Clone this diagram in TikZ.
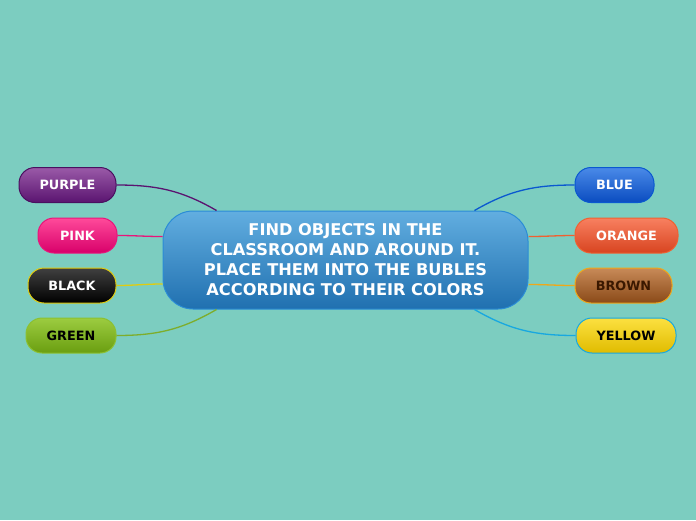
\documentclass[tikz,border=0pt]{standalone}
\usepackage{fontspec}
\setmainfont{DejaVu Sans}
\usepackage{tikz}
\usetikzlibrary{positioning, calc}
\definecolor{sea}{HTML}{7CCDC0}
% topic
\definecolor{topic_top}{HTML}{62AEE0}
\definecolor{topic_mid}{HTML}{3A8CC8}
\definecolor{topic_bot}{HTML}{2070B0}
\definecolor{topic_line}{HTML}{2A8CD6}
% leaves: top, bottom, border
\definecolor{purple_top}{HTML}{9A5AA8}
\definecolor{purple_bot}{HTML}{5A1470}
\definecolor{purple_line}{HTML}{4A1060}
\definecolor{pink_top}{HTML}{FF4A9A}
\definecolor{pink_bot}{HTML}{D8006A}
\definecolor{pink_line}{HTML}{E8157A}
\definecolor{black_top}{HTML}{404040}
\definecolor{black_bot}{HTML}{000000}
\definecolor{black_line}{HTML}{E0CC10}
\definecolor{green_top}{HTML}{9CCC40}
\definecolor{green_bot}{HTML}{6A9E10}
\definecolor{green_line}{HTML}{8CC030}
\definecolor{blue_top}{HTML}{4A8AE8}
\definecolor{blue_bot}{HTML}{0A4CC0}
\definecolor{blue_line}{HTML}{0A58D0}
\definecolor{orange_top}{HTML}{F88060}
\definecolor{orange_bot}{HTML}{D84420}
\definecolor{orange_line}{HTML}{F06030}
\definecolor{brown_top}{HTML}{C88A58}
\definecolor{brown_bot}{HTML}{8A4A18}
\definecolor{brown_line}{HTML}{F0A818}
\definecolor{brown_text}{HTML}{3A1800}
\definecolor{yellow_top}{HTML}{FCE040}
\definecolor{yellow_bot}{HTML}{E0BC00}
\definecolor{yellow_line}{HTML}{18A8E0}
\tikzset{
  main_font/.style = {font=\fontsize{16.2}{20}\selectfont\bfseries},
  leaf_font/.style = {font=\fontsize{12.8}{14}\selectfont\bfseries},
  leaf_size/.style = {minimum width=#1, minimum height=35pt, inner sep=0pt}
}
\tikzset{
  topic/.style = {main_font, align=center, text=white, draw=topic_line, line width=1pt,
    rounded corners=30pt, minimum width=365pt, minimum height=98pt, inner sep=0pt,
    top color=topic_top, middle color=topic_mid, bottom color=topic_bot},
  leaf/.style 2 args = {leaf_font, leaf_size=#1, rounded corners=16pt, line width=1pt,
    text=white, draw=#2_line, top color=#2_top, bottom color=#2_bot},
  link/.style = {line width=1.3pt, draw=#1}
}
\begin{document}
\begin{tikzpicture}[x=1pt, y=-1pt]
    \fill[sea] (0,0) rectangle (696,520);
    \useasboundingbox (0,0) rectangle (696,520);

    % Central topic
    \node[topic] at (345.5,260) (topic) {
        FIND OBJECTS IN THE\\
        CLASSROOM AND AROUND IT.\\
        PLACE THEM INTO THE BUBLES\\
        ACCORDING TO THEIR COLORS};

    % Left colours
    \node[leaf={97pt}{purple}] at (67.5,185) (purple) {PURPLE};
    \node[leaf={79pt}{pink}] at (77.5,235.5) (pink) {PINK};
    \node[leaf={88pt}{black}] at (72,285.5) (black) {BLACK};
    \node[leaf={90pt}{green}, text=black] at (71,335.5) (green) {GREEN};

    % Right colours
    \node[leaf={79pt}{blue}] at (614.5,185) (blue) {BLUE};
    \node[leaf={103pt}{orange}] at (626.5,235.5) (orange) {ORANGE};
    \node[leaf={97pt}{brown}, text=brown_text] at (623.5,285.5) (brown) {BROWN};
    \node[leaf={100pt}{yellow}, text=black] at (626,335.5) (yellow) {YELLOW};

    % Links
    \draw[link=purple_bot] (purple.east) to[out=0, in=150] (topic.159);
    \draw[link=pink_line] (pink.east) to[out=0, in=180] ([yshift=-1pt]topic.west |- pink.east);
    \draw[link=black_line] (black.east) to[out=0, in=180] ([yshift=1.5pt]topic.west |- black.east);
    \draw[link=green_line!90!black] (green.east) to[out=0, in=210] (topic.201);

    \draw[link=blue_line] (blue.west) to[out=180, in=30] (topic.21);
    \draw[link=orange_line] (orange.west) to[out=180, in=0] ([yshift=-1pt]topic.east |- orange.west);
    \draw[link=brown_line] (brown.west) to[out=180, in=0] ([yshift=1pt]topic.east |- brown.west);
    \draw[link=yellow_line] (yellow.west) to[out=180, in=-30] (topic.-21);
\end{tikzpicture}
\end{document}
